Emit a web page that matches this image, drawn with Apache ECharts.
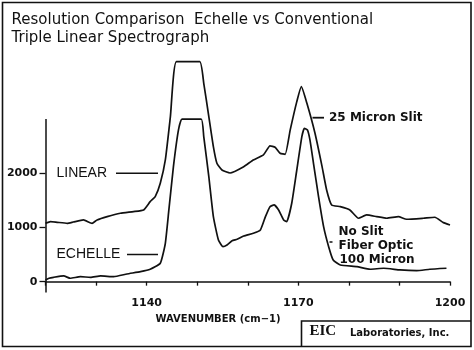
<!DOCTYPE html>
<html>
<head>
<meta charset="utf-8">
<script src="https://cdn.jsdelivr.net/npm/echarts@6/dist/echarts.min.js"></script>
<style>
  html, body { margin: 0; padding: 0; background: #fff; }
  #chart { width: 474px; height: 350px; }
</style>
</head>
<body>
<div id="chart"></div>
<script>
// Raman-type spectra: intensity vs wavenumber for the two spectrographs
const linearWavenumbers = [1120, 1121, 1122.3, 1124.3, 1125.5, 1127.5, 1129.2, 1130.2, 1132.2, 1134.8,
  1137.4, 1139.4, 1140.7, 1141.7, 1142.7, 1143.7, 1144.7, 1145.9, 1150.5, 1151.3,
  1152.3, 1153.2, 1153.9, 1154.9, 1156.5, 1159.2, 1161.1, 1163.1, 1164.4, 1165.4,
  1166.4, 1167.4, 1168.4, 1169.7, 1170.6, 1171.7, 1173.3, 1174.7, 1175.6, 1176.6,
  1178.3, 1180.2, 1181.9, 1183.5, 1185.5, 1187.5, 1189.8, 1191.4, 1194.7, 1197.0,
  1198.7, 1200];
const linearCounts = [1077, 1107, 1095, 1077, 1100, 1138, 1077, 1138, 1200, 1262,
  1292, 1323, 1476, 1568, 1815, 2245, 3044, 4060, 4060, 3660,
  3044, 2490, 2184, 2060, 2005, 2122, 2245, 2338, 2504, 2480,
  2369, 2350, 2799, 3321, 3598, 3291, 2738, 2122, 1692, 1415,
  1384, 1323, 1170, 1231, 1200, 1170, 1200, 1151, 1170, 1188,
  1089, 1046];

const echelleWavenumbers = [1120, 1120.7, 1121.6, 1123.6, 1124.9, 1126.9, 1128.9, 1130.9, 1133.5, 1136.1,
  1138.8, 1140.7, 1142.7, 1143.7, 1144.4, 1145.3, 1146.3, 1147.0, 1150.8, 1151.3,
  1152.3, 1153.2, 1154.2, 1155.1, 1155.9, 1156.9, 1157.9, 1159.2, 1161.1, 1162.5,
  1163.5, 1164.4, 1165.2, 1166.1, 1167.1, 1167.7, 1168.7, 1169.7, 1170.7, 1171.2,
  1171.8, 1172.3, 1173.0, 1174.0, 1175.0, 1176.0, 1176.9, 1178.3, 1181.6, 1184.2,
  1186.9, 1190.1, 1193.4, 1196.0, 1199.3];
const echelleCounts = [31, 63, 80, 105, 63, 92, 80, 105, 92, 142,
  185, 229, 339, 708, 1323, 2122, 2799, 3000, 3000, 2675,
  1937, 1200, 769, 646, 677, 756, 782, 843, 893, 954,
  1200, 1384, 1415, 1323, 1138, 1107, 1446, 2060, 2675, 2830,
  2799, 2614, 2184, 1568, 1015, 646, 400, 308, 277, 229,
  247, 216, 203, 229, 247];

const xTicks = [1120, 1130, 1140, 1150, 1160, 1170, 1180, 1190, 1200];
const xTickLabels = [1140, 1170, 1200];
const yTickLabels = [0, 1000, 2000];

const pairs = (xs, ys) => xs.map((x, i) => [x, ys[i]]);

const ink = '#111';
const sans = 'DejaVu Sans';
const plain = v => String(v);

const chart = echarts.init(document.getElementById('chart'));
chart.setOption({
  backgroundColor: '#fff',
  animation: false,
  grid: { left: 45.5, right: 24, top: 54, bottom: 57.5 },
  xAxis: {
    type: 'value', min: 1120, max: 1200,
    axisLine: { show: true, lineStyle: { color: ink, width: 1.5 } },
    axisTick: { show: true, length: 4, inside: false, customValues: xTicks, lineStyle: { color: ink, width: 1.3 } },
    axisLabel: { customValues: xTickLabels, formatter: plain, color: ink, fontFamily: sans, fontWeight: 'bold', fontSize: 11, margin: 5 },
    splitLine: { show: false }
  },
  yAxis: {
    type: 'value', min: -200, max: 4200,
    axisLine: { show: false },
    axisTick: { show: true, length: 6, customValues: yTickLabels, lineStyle: { color: ink, width: 1.3 } },
    axisLabel: { customValues: yTickLabels, formatter: plain, color: ink, fontFamily: sans, fontWeight: 'bold', fontSize: 11, margin: 8 },
    splitLine: { show: false }
  },
  series: [
    {
      name: 'LINEAR', type: 'line', data: pairs(linearWavenumbers, linearCounts),
      showSymbol: false, smooth: 0.15, clip: false,
      lineStyle: { color: ink, width: 1.7 },
      // vertical axis line, drawn only up to 3000 counts
      markLine: {
        silent: true, symbol: 'none', label: { show: false },
        lineStyle: { color: ink, width: 1.5, type: 'solid' },
        data: [[{ coord: [1120, -200] }, { coord: [1120, 3000] }]]
      }
    },
    {
      name: 'ECHELLE', type: 'line', data: pairs(echelleWavenumbers, echelleCounts),
      showSymbol: false, smooth: 0.15, clip: false,
      lineStyle: { color: ink, width: 1.7 }
    }
  ],
  graphic: [
    // outer frame
    { type: 'rect', shape: { x: 2.5, y: 2.5, width: 468.5, height: 344 }, style: { fill: null, stroke: ink, lineWidth: 1.6 } },
    // title
    { type: 'text', x: 11.5, y: 13, style: { text: 'Resolution Comparison  Echelle vs Conventional', fill: ink, font: '15px "DejaVu Sans"', letterSpacing: 0.35 } },
    { type: 'text', x: 11.5, y: 31, style: { text: 'Triple Linear Spectrograph', fill: ink, font: '15px "DejaVu Sans"', letterSpacing: 0.35 } },
    // series labels with leaders
    { type: 'text', x: 56.5, y: 173, style: { text: 'LINEAR', fill: ink, font: '14px "Liberation Sans"', verticalAlign: 'middle' } },
    { type: 'line', shape: { x1: 116, y1: 173.3, x2: 158, y2: 173.3 }, style: { stroke: ink, lineWidth: 1.5 } },
    { type: 'text', x: 56.5, y: 254, style: { text: 'ECHELLE', fill: ink, font: '14px "Liberation Sans"', verticalAlign: 'middle' } },
    { type: 'line', shape: { x1: 127, y1: 254.5, x2: 158, y2: 254.5 }, style: { stroke: ink, lineWidth: 1.5 } },
    { type: 'line', shape: { x1: 312.5, y1: 117.7, x2: 324, y2: 117.7 }, style: { stroke: ink, lineWidth: 1.8 } },
    { type: 'text', x: 329, y: 117.7, style: { text: '25 Micron Slit', fill: ink, font: 'bold 12px "DejaVu Sans"', letterSpacing: 0.2, verticalAlign: 'middle' } },
    { type: 'line', shape: { x1: 329.5, y1: 242, x2: 332.5, y2: 242 }, style: { stroke: ink, lineWidth: 1.5 } },
    { type: 'text', x: 338.5, y: 232, style: { text: 'No Slit', fill: ink, font: 'bold 12px "DejaVu Sans"', verticalAlign: 'middle' } },
    { type: 'text', x: 338.5, y: 245.5, style: { text: 'Fiber Optic', fill: ink, font: 'bold 12px "DejaVu Sans"', verticalAlign: 'middle' } },
    { type: 'text', x: 339.5, y: 259.5, style: { text: '100 Micron', fill: ink, font: 'bold 12px "DejaVu Sans"', verticalAlign: 'middle' } },
    // axis title
    { type: 'text', x: 218, y: 319, style: { text: 'WAVENUMBER (cm\u22121)', fill: ink, font: 'bold 10px "DejaVu Sans"', align: 'center', verticalAlign: 'middle' } },
    // lab credit box
    { type: 'polyline', shape: { points: [[301.5, 346], [301.5, 321], [471, 321]] }, style: { fill: null, stroke: ink, lineWidth: 1.6 } },
    { type: 'text', x: 309.5, y: 331.5, style: { text: 'EIC', fill: ink, font: 'bold 15px "Liberation Serif"', verticalAlign: 'middle' } },
    { type: 'text', x: 350, y: 333, style: { text: 'Laboratories, Inc.', fill: ink, font: 'bold 10px "DejaVu Sans"', letterSpacing: 0.3, verticalAlign: 'middle' } }
  ]
});
</script>
</body>
</html>
